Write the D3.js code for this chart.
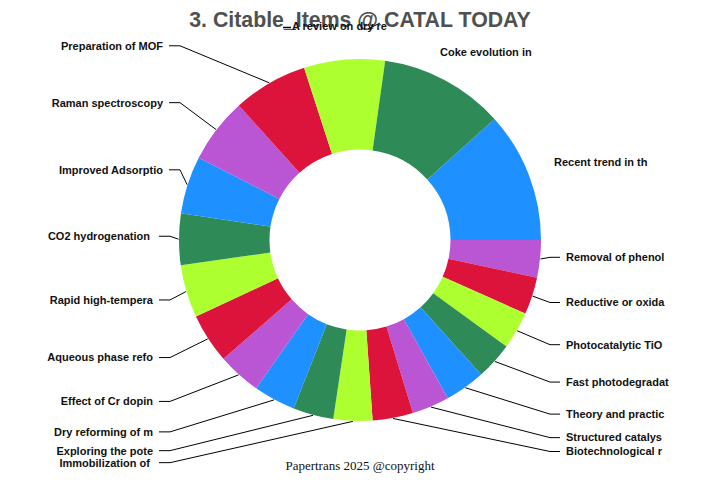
<!DOCTYPE html>
<html><head><meta charset="utf-8">
<script src="https://cdn.jsdelivr.net/npm/d3@7/dist/d3.min.js"></script>
<style>body{margin:0;background:#fff}svg text{white-space:pre}</style>
</head><body><svg id="chart" width="720" height="480"></svg>
<script>
const categories = [
  "Recent trend in th", "Removal of phenol ", "Reductive or oxida", "Photocatalytic TiO",
  "Fast photodegradat", "Theory and practic", "Structured catalys", "Biotechnological r",
  "Immobilization of ", "Exploring the pote", "Dry reforming of m", "Effect of Cr dopin",
  "Aqueous phase refo", "Rapid high-tempera", "CO2 hydrogenation ", "Improved Adsorptio",
  "Raman spectroscopy", "Preparation of MOF", "A review on dry re", "Coke evolution in "
];
const values = [42, 12, 12, 12, 12, 13, 12, 13, 12.5, 13, 13.5, 14, 16, 17, 16.5, 18.5, 21, 24, 26, 40];
const palette = ["#1E90FF", "#BA55D3", "#DC143C", "#ADFF2F", "#2E8B57"];
const titleText = "3. Citable_Items @ CATAL TODAY";
const footerText = "Papertrans 2025 @copyright";

const W = 720, H = 480, cx = 360, cy = 240;
const R = 181, r0 = 90.5, labelR = 221;
const deg = Math.PI / 180;
const start = 48 * deg;

const svg = d3.select("#chart");
const g = svg.append("g").attr("transform", `translate(${cx},${cy})`);

const pie = d3.pie().sort(null).value(d => d.v).startAngle(start).endAngle(start + 2 * Math.PI);
const data = categories.map((c, i) => ({ c, v: values[i], i }));
const arcs = pie(data);
const arc = d3.arc().innerRadius(r0).outerRadius(R);
const color = d3.scaleOrdinal().domain(d3.range(categories.length)).range(palette);

g.selectAll("path.slice").data(arcs).enter().append("path")
  .attr("class", "slice")
  .attr("d", arc)
  .attr("fill", d => color(d.data.i));

svg.append("text")
  .attr("x", cx).attr("y", 27)
  .attr("text-anchor", "middle")
  .attr("font-family", "Liberation Sans, Arial, sans-serif")
  .attr("font-weight", "bold").attr("font-size", 21.3)
  .attr("fill", "#505050")
  .text(titleText);

// labels
const big = new Set([0, 18, 19]);
const pt = (a, rad) => [cx + rad * Math.sin(a), cy - rad * Math.cos(a)];
const lab = arcs.filter(d => !big.has(d.data.i)).map(d => {
  const mid = (d.startAngle + d.endAngle) / 2;
  const m = ((mid / deg) % 360 + 360) % 360;
  const side = m < 180 ? "right" : "left";
  return { d, mid, m, side, y: cy - labelR * Math.cos(mid) - (side === "right" ? 5.8 : 2.8) };
});
["left", "right"].forEach(s => {
  const arr = lab.filter(l => l.side === s).sort((a, b) => a.y - b.y);
  for (let k = 1; k < arr.length; k++) {
    if (arr[k].y - arr[k - 1].y < 12) arr[k].y = arr[k - 1].y + 12;
  }
});
const font = "Liberation Sans, Arial, sans-serif";
lab.forEach(l => {
  let elbow, end, tx, anchor;
  if (l.side === "right") { elbow = 550; end = 560; tx = 566; anchor = "start"; }
  else if (l.m >= 280) { elbow = 180; end = 169; tx = 163; anchor = "end"; }
  else { elbow = 170; end = 159; tx = 153; anchor = "end"; }
  const p0 = pt(l.mid, R + 0.5);
  svg.append("polyline")
    .attr("points", [p0, [elbow, l.y], [end, l.y]].map(p => p.join(",")).join(" "))
    .attr("fill", "none").attr("stroke", "#000").attr("stroke-width", 1);
  svg.append("text")
    .attr("x", tx).attr("y", l.y).attr("dy", "0.35em")
    .attr("text-anchor", anchor)
    .attr("font-family", font).attr("font-weight", "bold").attr("font-size", 11)
    .attr("fill", "#111")
    .text(l.d.data.c);
});

// labels of the three large slices
const bigPos = { 0: [554, 162], 19: [440, 52], 18: [292, 26] };
Object.keys(bigPos).forEach(k => {
  const [x, y] = bigPos[k];
  svg.append("text")
    .attr("x", x).attr("y", y).attr("dy", "0.35em")
    .attr("font-family", font).attr("font-weight", "bold").attr("font-size", 11)
    .attr("fill", "#111")
    .text(categories[+k]);
});
svg.append("line").attr("x1", 283).attr("y1", 27.5).attr("x2", 291).attr("y2", 27.5)
  .attr("stroke", "#000").attr("stroke-width", 1.5);
svg.append("line").attr("x1", 368).attr("y1", 29).attr("x2", 380).attr("y2", 23)
  .attr("stroke", "#000").attr("stroke-width", 1);

svg.append("text")
  .attr("x", cx).attr("y", 470)
  .attr("text-anchor", "middle")
  .attr("font-family", "Liberation Serif, Times New Roman, serif")
  .attr("font-size", 13).attr("fill", "#111")
  .text(footerText);
</script>
</body></html>
